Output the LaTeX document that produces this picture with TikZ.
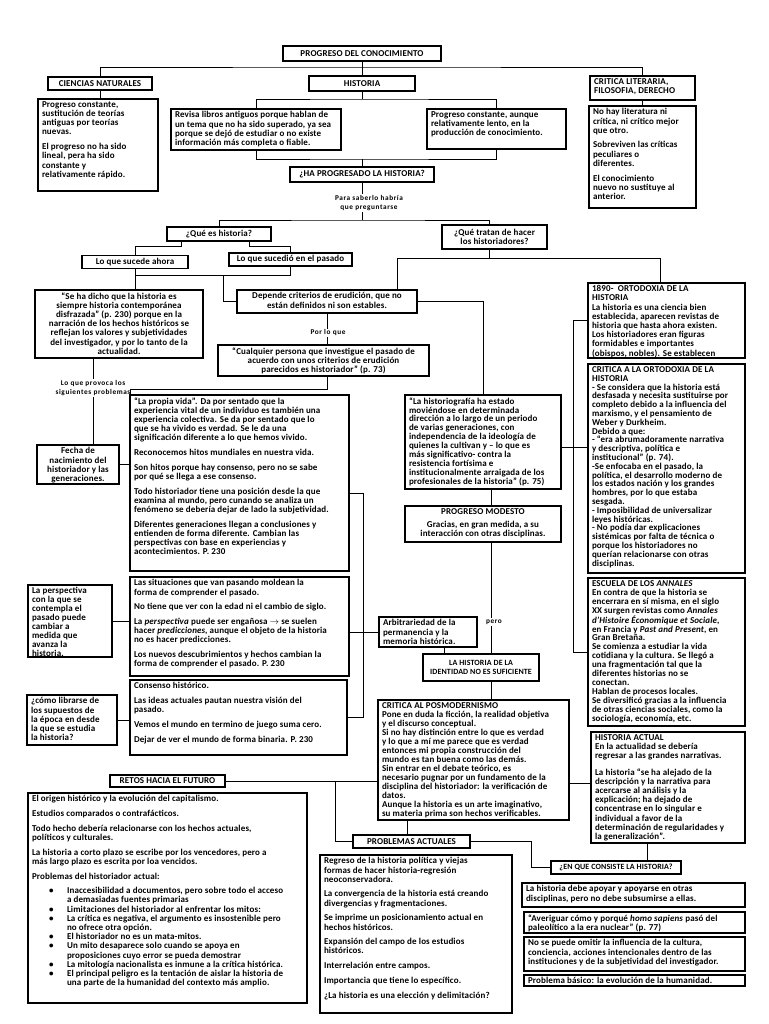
\documentclass[tikz,border=0pt]{standalone}
\usepackage{fontspec}
\setmainfont{Carlito}[LetterSpace=1.5,UprightFont=*-Bold,ItalicFont=*-BoldItalic]
\newfontfamily\lblfamily{Carlito}[LetterSpace=8,UprightFont=*-Bold]
\newcommand\fs{\fontsize{9}{9.2}\selectfont}
\newcommand\sfs{\fontsize{8}{9}\selectfont}
\newcommand\lf{\lblfamily\fontsize{7.3}{9.5}\selectfont}
\newcommand\pg{\par\vspace{5.5pt}}
\newcommand\tb[4]{\parbox[c][\dimexpr#2pt-5pt\relax][t]{\dimexpr#1pt-8pt\relax}{#3#4}}
\begin{document}
\begin{tikzpicture}[x=1pt,y=-1pt,
  bx/.style={draw, line width=1.1pt, inner xsep=4pt, inner ysep=2.5pt, outer sep=0pt, anchor=north west, font=\fs},
  sb/.style={draw, line width=1.1pt, inner sep=0pt, outer sep=0pt, font=\fs, align=center},
  ln/.style={line width=0.7pt},
  lbl/.style={font=\lf, align=center, inner sep=1pt}]
\fill[white] (0,0) rectangle (768,1024);
\useasboundingbox (0,0) rectangle (768,1024);

% ---------- single line boxes
\node[sb, minimum width=158pt, minimum height=15pt] (top) at (362,53.5) {PROGRESO DEL CONOCIMIENTO};
\node[sb, minimum width=104pt, minimum height=13pt] (cn) at (100,83.5) {CIENCIAS NATURALES};
\node[sb, minimum width=106pt, minimum height=15pt] (hist) at (362,83.5) {HISTORIA};
\node[sb, minimum width=144pt, minimum height=15pt] (hap) at (362,174.5) {¿HA PROGRESADO LA HISTORIA?};
\node[sb, minimum width=104pt, minimum height=14pt] (qe) at (219,234) {¿Qué es historia?};
\node[sb, minimum width=105pt, minimum height=24pt] (qt) at (494.5,237) {¿Qué tratan de hacer\\los historiadores?};
\node[sb, minimum width=106pt, minimum height=13pt] (ahora) at (135,262) {Lo que sucede ahora};
\node[sb, minimum width=123pt, minimum height=13pt] (pas) at (290.5,259.5) {Lo que sucedió en el pasado};
\node[sb, minimum width=116pt, minimum height=27pt, font=\sfs] (ident) at (481,667.5) {LA HISTORIA DE LA\\IDENTIDAD NO ES SUFICIENTE};
\node[sb, minimum width=115pt, minimum height=12pt] (retos) at (167.5,781) {RETOS HACIA EL FUTURO};
\node[sb, minimum width=117pt, minimum height=13pt] (probl) at (411.5,841.5) {PROBLEMAS ACTUALES};
\node[sb, minimum width=130pt, minimum height=13pt, font=\sfs] (enq) at (616,867.5) {¿EN QUE CONSISTE LA HISTORIA?};

% ---------- text boxes
\node[bx] (clt) at (590,76) {\tb{105}{24}{\raggedright}{CRITICA LITERARIA,\\ FILOSOFIA, DERECHO}};
\node[bx] (cnc) at (38,99) {\tb{120}{92}{\raggedright}{Progreso constante,\\ sustitución de teorías\\ antiguas por teorías\\ nuevas.\pg El progreso no ha sido\\ lineal, pera ha sido\\ constante y\\ relativamente rápido.}};
\node[bx] (rev) at (171,109) {\tb{170}{41}{\raggedright}{Revisa libros antiguos porque hablan de\\ un tema que no ha sido superado, ya sea\\ porque se dejó de estudiar o no existe\\ información más completa o fiable.}};
\node[bx] (prog) at (427,109) {\tb{139}{40}{\raggedright}{Progreso constante, aunque\\ relativamente lento, en la\\ producción de conocimiento.}};
\node[bx] (clc) at (589,106) {\tb{107}{102}{\raggedright}{No hay literatura ni\\ crítica, ni crítico mejor\\ que otro.\pg Sobreviven las críticas\\ peculiares o\\ diferentes.\pg El conocimiento\\ nuevo no sustituye al\\ anterior.}};
\node[bx] (sedi) at (35,290) {\tb{168}{68}{\centering}{“Se ha dicho que la historia es\\ siempre historia contemporánea\\ disfrazada” (p. 230) porque en la\\ narración de los hechos históricos se\\ reflejan los valores y subjetividades\\ del investigador, y por lo tanto de la\\ actualidad.}};
\node[bx] (dep) at (237,290) {\tb{180}{23}{\centering}{Depende criterios de erudición, que no\\ están definidos ni son estables.}};
\node[bx] (cual) at (218,345) {\tb{211}{31}{\centering}{“Cualquier persona que investigue el pasado de\\ acuerdo con unos criterios de erudición\\ parecidos es historiador” (p. 73)}};
\node[bx] (o1890) at (588,283) {\tb{157}{75}{\raggedright}{1890-\ \ ORTODOXIA DE LA\\ HISTORIA\\ La historia es una ciencia bien\\ establecida, aparecen revistas de\\ historia que hasta ahora existen.\\ Los historiadores eran figuras\\ formidables e importantes\\ (obispos, nobles). Se establecen}};
\node[bx] (crit) at (588,364) {\tb{157}{209}{\raggedright\fontsize{9}{8.8}\selectfont}{CRITICA A LA ORTODOXIA DE LA\\ HISTORIA\\ - Se considera que la historia está\\ desfasada y necesita sustituirse por\\ completo debido a la influencia del\\ marxismo, y el pensamiento de\\ Weber y Durkheim.\\ Debido a que:\\ - “era abrumadoramente narrativa\\ y descriptiva, política e\\ institucional” (p. 74).\\ -Se enfocaba en el pasado, la\\ política, el desarrollo moderno de\\ los estados nación y los grandes\\ hombres, por lo que estaba\\ sesgada.\\ - Imposibilidad de universalizar\\ leyes históricas.\\ - No podía dar explicaciones\\ sistémicas por falta de técnica o\\ porque los historiadores no\\ querían relacionarse con otras\\ disciplinas.}};
\node[bx] (ann) at (588,578) {\tb{157}{148}{\raggedright\fontsize{9}{8.9}\selectfont}{ESCUELA DE LOS \textit{ANNALES}\\ En contra de que la historia se\\ encerrara en sí misma, en el siglo\\ XX surgen revistas como \textit{Annales}\\ \textit{d'Histoire Économique et Sociale},\\ en Francia y \textit{Past and Present}, en\\ Gran Bretaña.\\ Se comienza a estudiar la vida\\ cotidiana y la cultura. Se llegó a\\ una fragmentación tal que la\\ diferentes historias no se\\ conectan.\\ Hablan de procesos locales.\\ Se diversificó gracias a la influencia\\ de otras ciencias sociales, como la\\ sociología, economía, etc.}};
\node[bx] (hact) at (591,732) {\tb{154}{111}{\raggedright}{HISTORIA ACTUAL\\ En la actualidad se debería\\ regresar a las grandes narrativas.\par\vspace{7pt}La historia “se ha alejado de la\\ descripción y la narrativa para\\ acercarse al análisis y la\\ explicación; ha dejado de\\ concentrase en lo singular e\\ individual a favor de la\\ determinación de regularidades y\\ la generalización”.}};
\node[bx] (hgr) at (405,395) {\tb{156}{94}{\raggedright\fontsize{9}{8.9}\selectfont}{“La historiografía ha estado\\ moviéndose en determinada\\ dirección a lo largo de un periodo\\ de varias generaciones, con\\ independencia de la ideología de\\ quienes la cultivan y – lo que es\\ más significativo- contra la\\ resistencia fortísima e\\ institucionalmente arraigada de los\\ profesionales de la historia” (p. 75)}};
\node[bx] (pm) at (405,506) {\tb{156}{36}{\centering}{PROGRESO MODESTO\par\vspace{4pt}Gracias, en gran medida, a su\\ interacción con otras disciplinas.}};
\node[bx] (arb) at (379,617) {\tb{98}{30}{\raggedright}{Arbitrariedad de la\\ permanencia y la\\ memoria histórica.}};
\node[bx] (posm) at (378,700) {\tb{191}{120}{\raggedright\fontsize{9}{9}\selectfont}{CRITICA AL POSMODERNISMO\\ Pone en duda la ficción, la realidad objetiva\\ y el discurso conceptual.\\ Si no hay distinción entre lo que es verdad\\ y lo que a mí me parece que es verdad\\ entonces mi propia construcción del\\ mundo es tan buena como las demás.\\ Sin entrar en el debate teórico, es\\ necesario pugnar por un fundamento de la\\ disciplina del historiador: la verificación de\\ datos.\\ Aunque la historia es un arte imaginativo,\\ su materia prima son hechos verificables.}};
\node[bx] (fecha) at (37,445) {\tb{82}{39}{\centering}{Fecha de\\ nacimiento del\\ historiador y las\\ generaciones.}};
\node[bx] (vida) at (130,395) {\tb{219}{176}{\raggedright}{“La propia vida”. Da por sentado que la\\ experiencia vital de un individuo es también una\\ experiencia colectiva. Se da por sentado que lo\\ que se ha vivido es verdad. Se le da una\\ significación diferente a lo que hemos vivido.\pg Reconocemos hitos mundiales en nuestra vida.\pg Son hitos porque hay consenso, pero no se sabe\\ por qué se llega a ese consenso.\pg Todo historiador tiene una posición desde la que\\ examina al mundo, pero cunando se analiza un\\ fenómeno se debería dejar de lado la subjetividad.\pg Diferentes generaciones llegan a conclusiones y\\ entienden de forma diferente. Cambian las\\ perspectivas con base en experiencias y\\ acontecimientos. P. 230}};
\node[bx] (sit) at (130,577) {\tb{219}{99}{\raggedright}{Las situaciones que van pasando moldean la\\ forma de comprender el pasado.\pg No tiene que ver con la edad ni el cambio de siglo.\pg La \textit{perspectiva} puede ser engañosa $\rightarrow$ se suelen\\ hacer \textit{predicciones}, aunque el objeto de la historia\\ no es hacer predicciones.\pg Los nuevos descubrimientos y hechos cambian la\\ forma de comprender el pasado. P. 230}};
\node[bx] (cons) at (130,680) {\tb{217}{75}{\raggedright}{Consenso histórico.\pg Las ideas actuales pautan nuestra visión del\\ pasado.\pg Vemos el mundo en termino de juego suma cero.\pg Dejar de ver el mundo de forma binaria. P. 230}};
\node[bx, inner ysep=2pt] (persp) at (28,585) {\tb{84}{73}{\raggedright\fontsize{9}{9}\selectfont}{La perspectiva\\ con la que se\\ contempla el\\ pasado puede\\ cambiar a\\ medida que\\ avanza la\\ historia.}};
\node[bx] (como) at (27,695) {\tb{90}{50}{\raggedright}{¿cómo librarse de\\ los supuestos de\\ la época en desde\\ la que se estudia\\ la historia?}};
\node[bx] (retc) at (28,793) {\tb{279}{210}{\raggedright}{El origen histórico y la evolución del capitalismo.\pg Estudios comparados o contrafácticos.\pg Todo hecho debería relacionarse con los hechos actuales,\\ políticos y culturales.\pg La historia a corto plazo se escribe por los vencedores, pero a\\ más largo plazo es escrita por loa vencidos.\pg Problemas del historiador actual:\pg
\hspace*{17pt}\makebox[18pt][l]{\textbullet}Inaccesibilidad a documentos, pero sobre todo el acceso\\ \hspace*{35pt}a demasiadas fuentes primarias\\
\hspace*{17pt}\makebox[18pt][l]{\textbullet}Limitaciones del historiador al enfrentar los mitos:\\
\hspace*{17pt}\makebox[18pt][l]{\textbullet}La crítica es negativa, el argumento es insostenible pero\\ \hspace*{35pt}no ofrece otra opción.\\
\hspace*{17pt}\makebox[18pt][l]{\textbullet}El historiador no es un mata-mitos.\\
\hspace*{17pt}\makebox[18pt][l]{\textbullet}Un mito desaparece solo cuando se apoya en\\ \hspace*{35pt}proposiciones cuyo error se pueda demostrar\\
\hspace*{17pt}\makebox[18pt][l]{\textbullet}La mitología nacionalista es inmune a la crítica histórica.\\
\hspace*{17pt}\makebox[18pt][l]{\textbullet}El principal peligro es la tentación de aislar la historia de\\ \hspace*{35pt}una parte de la humanidad del contexto más amplio.}};
\node[bx] (probc) at (320,855) {\tb{192}{158}{\raggedright}{Regreso de la historia política y viejas\\ formas de hacer historia-regresión\\ neoconservadora.\pg La convergencia de la historia está creando\\ divergencias y fragmentaciones.\pg Se imprime un posicionamiento actual en\\ hechos históricos.\pg Expansión del campo de los estudios\\ históricos.\pg Interrelación entre campos.\pg Importancia que tiene lo específico.\pg ¿La historia es una elección y delimitación?}};
\node[bx] (apo) at (522,883) {\tb{223}{24}{\raggedright}{La historia debe apoyar y apoyarse en otras\\ disciplinas, pero no debe subsumirse a ellas.}};
\node[bx] (ave) at (524,912) {\tb{221}{21}{\raggedright}{“Averiguar cómo y porqué \textit{homo sapiens} pasó del\\ paleolítico a la era nuclear” (p. 77)}};
\node[bx] (nose) at (524,937) {\tb{221}{34}{\raggedright}{No se puede omitir la influencia de la cultura,\\ conciencia, acciones intencionales dentro de las\\ instituciones y de la subjetividad del investigador.}};
\node[bx, inner ysep=1pt] (pbas) at (524,975) {\parbox[c][9pt][c]{213pt}{Problema básico: la evolución de la humanidad.}};

% ---------- labels
\node[lbl] (para) at (369,203) {Para saberlo habría\\que preguntarse};
\node[lbl] (porq) at (328,333) {Por lo que};
\node[lbl] (lpro) at (93,388) {Lo que provoca los\\siguientes problemas};
\node[lbl] (pero) at (494,622) {pero};

% ---------- junctions
\coordinate (j1) at (362,67);
\coordinate (j2) at (362,99);
\coordinate (j3) at (362,159);
\coordinate (j4) at (362,220);
\coordinate (j5) at (223,275.5);
\coordinate (qtn) at ([xshift=-5pt]qt.north);
\coordinate (qts) at ([xshift=-5pt]qt.south);
\coordinate (qel) at ([xshift=-38pt]qe.south);
\coordinate (qer) at ([xshift=30pt]qe.south);
\coordinate (cs) at ([xshift=4pt]cual.south);
\coordinate (vt) at ([yshift=6pt]vida.north west);
\coordinate (on) at ([xshift=-6pt]o1890.north);
\coordinate (dn) at ([xshift=70pt]dep.north);
\coordinate (k1) at ([yshift=-5pt]hgr.east);
\coordinate (hs) at ([xshift=8pt]hgr.south);
\coordinate (pms) at ([xshift=8pt]pm.south);
\coordinate (as) at ([xshift=16pt]arb.south);
\coordinate (is) at ([xshift=10pt]ident.south);
\coordinate (pe) at ([yshift=-23pt]posm.east);
\coordinate (has) at ([xshift=-21pt]hact.south);
\coordinate (psw) at ([xshift=29pt]posm.south west);
\coordinate (rj) at ([xshift=110pt]retos.east);
\coordinate (ss) at ([xshift=-26pt]sedi.south);
\coordinate (ve) at ([yshift=-10pt]vida.east);

% ---------- connectors
\draw[ln] (top.south) -- (hist.north);
\draw[ln] (cn.north) |- (j1) -| (clt.north);
\draw[ln] (cn.south) -- (cn.south |- cnc.north);
\draw[ln] (clt.south) -- (clt.south |- clc.north);
\draw[ln] (hist.south) -- (j2);
\draw[ln] (rev.north) |- (j2) -| (prog.north);
\draw[ln] (rev.south) |- (j3) -| (prog.south);
\draw[ln] (j3) -- (hap.north);
\draw[ln] (hap.south) -- (hap.south |- para.north);
\draw[ln] (hap.south |- para.south) -- (j4);
\draw[ln] (qe.north) |- (j4) -| (qtn);
\draw[ln] (qel) -- ++(0,5) -| (ahora.north);
\draw[ln] (qer) -- ++(0,5) -| (pas.north);
\draw[ln] (ahora.south) -- ++(0,7) -| (pas.south);
\draw[ln] (ahora.south) -- (ahora.south |- sedi.north);
\draw[ln] (j5) |- (dep.west);
\draw[ln] (dep.south) -- (dep.south |- porq.north);
\draw[ln] (dep.south |- porq.south) -- (dep.south |- cual.north);
\draw[ln] (cs) |- (vt) -- (vida.north west);
\draw[ln] (qts) -- ++(0,9) -| (on);
\draw[ln] (qts) -- ++(0,9) -| (dn);
\draw[ln] (dep.east) -| (hgr.north);
\draw[ln] (o1890.west) -- ++(-15,0) |- (ann.west);
\draw[ln] (k1) -- (k1 -| crit.west);
\draw[ln] (hs) -- (hs |- pm.north);
\draw[ln] (pms) -- (pms |- pero.north);
\draw[ln] (pms |- pero.south) -- (pms |- ident.north);
\draw[ln] (as) -- (as |- ident.north);
\draw[ln] (is) -- (is |- posm.north);
\draw[ln] (pe) -- (pe -| hact.west);
\draw[ln] (has) -- (has |- enq.north);
\draw[ln] (probl.east) -- ++(61,0) |- (enq.west);
\draw[ln] (psw) -- (psw |- probl.north);
\draw[ln] (retos.east) -- (retos.east -| posm.west);
\draw[ln] (rj) |- (probl.west);
\draw[ln] (ss) -- (ss |- lpro.north);
\draw[ln] (lpro.south) -- (lpro.south |- fecha.north);
\draw[ln] (fecha.east) -- (fecha.east -| vida.west);
\draw[ln] (persp.east) -- (persp.east -| sit.west);
\draw[ln] (como.east) -- (como.east -| cons.west);
\draw[ln] (ve) -- ++(14,0) |- (cons.east);
\draw[ln] (arb.west) -- (arb.west -| sit.east);
\end{tikzpicture}
\end{document}
